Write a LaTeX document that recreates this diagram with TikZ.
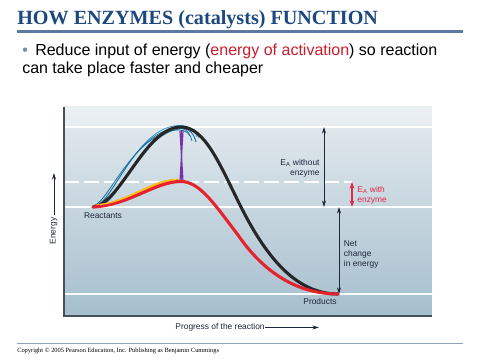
\documentclass[tikz,border=0pt]{standalone}
\usepackage{fontspec}
\setmainfont{Liberation Sans}
\newfontfamily\titlefont{Liberation Serif}
\usetikzlibrary{arrows.meta}
\definecolor{titleblue}{RGB}{28,72,128}
\definecolor{rulecol}{RGB}{95,120,160}
\definecolor{copyrule}{RGB}{140,162,182}
\definecolor{bulletcol}{RGB}{110,140,175}
\definecolor{actred}{RGB}{200,30,45}
\definecolor{paneltop}{RGB}{229,235,240}
\definecolor{panelbot}{RGB}{166,191,205}
\definecolor{axisgray}{RGB}{70,80,90}
\definecolor{labcol}{RGB}{30,38,58}
\definecolor{curvered}{RGB}{230,35,45}
\definecolor{eared}{RGB}{225,40,75}
\definecolor{scribble}{RGB}{25,110,160}
\definecolor{scribble2}{RGB}{60,150,200}
\definecolor{purp}{RGB}{120,50,170}
\definecolor{orangey}{RGB}{250,165,40}
\tikzset{
  lab/.style={font=\fontsize{6.3}{7.3}\selectfont, text=labcol, inner sep=0.5pt},
  dimarrow/.style={-{Stealth[length=5pt,width=3pt]}, line width=0.6pt, labcol},
  dimarrowboth/.style={{Stealth[length=5pt,width=3pt]}-{Stealth[length=5pt,width=3pt]}, line width=0.6pt, labcol},
  redarrow/.style={{Stealth[length=5pt,width=3.5pt]}-{Stealth[length=5pt,width=3.5pt]}, line width=1pt, eared},
  gridline/.style={white, line width=0.8pt},
  curve/.style={line width=2.3pt, line cap=round},
}
\begin{document}
\begin{tikzpicture}[x=0.75pt,y=-0.75pt]
\useasboundingbox (0,0) rectangle (480,360);
\fill[white] (0,0) rectangle (480,360);
% title
\node[anchor=base west, inner sep=0, font=\titlefont\bfseries\fontsize{15.1}{17}\selectfont, text=titleblue] (title) at (17,25) {HOW ENZYMES (catalysts) FUNCTION};
\draw[rulecol, line width=1.6pt] (17,31.5) -- (463,31.5);
% bullet
\node[anchor=base west, inner sep=0, font=\fontsize{12}{14}\selectfont, text=bulletcol] (bul) at (22,56) {•};
\node[anchor=base west, inner sep=0, font=\fontsize{12}{14}\selectfont] (line1) at (35,56) {Reduce input of energy (\textcolor{actred}{energy of activation}) so reaction};
\node[anchor=base west, inner sep=0, font=\fontsize{12}{14}\selectfont] (line2) at (22,74) {can take place faster and cheaper};
% panel
\shade[top color=paneltop, bottom color=panelbot] (64,107) rectangle (432,316);
\fill[white, opacity=0.25] (64,107) rectangle (432,127);
\draw[gridline] (64,127) -- (432,127);
\draw[gridline] (64,207) -- (432,207);
\draw[gridline] (64,294) -- (432,294);
\draw[gridline, dash pattern=on 11pt off 4pt] (64,182) -- (352,182);
\draw[axisgray, line width=0.9pt] (64,107) -- (64,316) -- (432,316);
% key points
\coordinate (R) at (93,207);
\coordinate (P) at (338,294);
\coordinate (Tb) at (181,127);
\coordinate (Tr) at (181,181.5);
% scribbles (blue) around black
\draw[scribble2, line width=0.6pt] (95,206) .. controls (114,201) and (136,128) .. (178,125.5) .. controls (190,125) and (196,131) .. (199,138);
\draw[scribble, line width=0.7pt] (96,207) .. controls (122,203) and (140,132) .. (182,128.5) .. controls (190,128.5) and (194,134) .. (196,142);
\draw[scribble, line width=0.6pt] (94,206) .. controls (110,199) and (134,134) .. (176,130) .. controls (186,129.5) and (191,134) .. (192,141);
\draw[scribble2, line width=0.5pt] (98,207) .. controls (122,204) and (140,124) .. (185,127) .. controls (192,128) and (195,132) .. (197,137);
\draw[scribble, line width=0.5pt] (95,207) .. controls (112,203) and (132,136) .. (172,129) .. controls (182,127) and (188,129) .. (190,136);
% purple
\draw[purp, line width=0.9pt] (180,131) -- (183,181);
\draw[purp, line width=0.9pt] (183,131) -- (180,181);
\draw[purp, line width=0.6pt] (181.5,130) -- (181.5,182);
% black curve
\draw[curve, black!85] (R) .. controls (120,205) and (145,127) .. (Tb)
  .. controls (205,127) and (220,165) .. (240,205)
  .. controls (265,255) and (295,294) .. (P);
% red curve
\draw[orangey, line width=2pt, line cap=round] (97,205.5) .. controls (128,203) and (152,180) .. (178,180);
\draw[curve, curvered] (R) .. controls (130,205) and (155,181.5) .. (Tr)
  .. controls (200,181.5) and (215,205) .. (238,235)
  .. controls (262,270) and (295,294) .. (P);
\draw[orangey!60!yellow, line width=0.7pt] (100,204.5) .. controls (128,202) and (152,180) .. (176,179.5);
% labels
\node[lab] (react) at (103,216) {Reactants};
\node[lab] (prod) at (320,301.5) {Products};
% dimension arrows
\coordinate (ea1t) at (324,127);
\coordinate (ea1b) at (324,207);
\draw[dimarrowboth] (ea1t) -- (ea1b);
\node[lab, anchor=east, align=right] (ea1) at (320.5,168) {E\textsubscript{A} without\\enzyme};
\coordinate (ea2t) at (352,182);
\coordinate (ea2b) at (352,207);
\draw[redarrow] (ea2t) -- (ea2b);
\node[lab, anchor=west, align=left, text=eared] (ea2) at (356.5,195) {E\textsubscript{A} with\\enzyme};
\coordinate (nct) at (339,207);
\coordinate (ncb) at (339,294);
\draw[dimarrowboth] (nct) -- (ncb);
\node[lab, anchor=west, align=left] (nc) at (343,254.5) {Net\\change\\in energy};
% axis labels
\node[lab, rotate=90] (energy) at (53.5,231) {Energy};
\coordinate (enA) at (54,215);
\coordinate (enB) at (54,173);
\draw[dimarrow] (enA) -- (enB);
\node[lab, anchor=west] (prog) at (174.5,327.5) {Progress of the reaction};
\coordinate (pgA) at (265,327.5);
\coordinate (pgB) at (319,327.5);
\draw[dimarrow] (pgA) -- (pgB);
% copyright
\draw[copyrule, line width=1.4pt] (17,343.5) -- (463,343.5);
\node[anchor=base west, inner sep=0, font=\titlefont\fontsize{4.8}{5.5}\selectfont] (copy) at (17,352.5) {Copyright © 2005 Pearson Education, Inc. Publishing as Benjamin Cummings};
\end{tikzpicture}
\end{document}
